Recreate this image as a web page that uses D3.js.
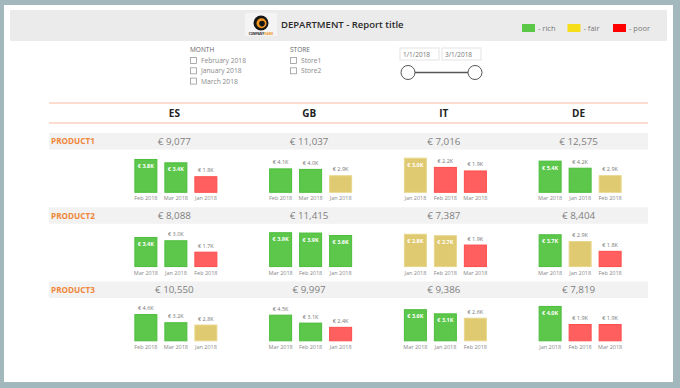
<!DOCTYPE html>
<html>
<head>
<meta charset="utf-8">
<script src="https://cdn.jsdelivr.net/npm/d3@7"></script>
<style>
  body { margin: 0; background: #a3b8bc; }
  svg text { font-family: "Open Sans", "Noto Sans", sans-serif; }
</style>
</head>
<body>
<div id="report"></div>
<script>
var countries = ["ES", "GB", "IT", "DE"];
var products = ["PRODUCT1", "PRODUCT2", "PRODUCT3"];
var months = ["Jan 2018", "Feb 2018", "Mar 2018"];

// sales per country, in the order Jan, Feb, Mar
var salesProduct1 = [[1837, 3812, 3428], [2924, 4102, 4011], [2968, 2176, 1872], [4215, 2932, 5428]];
var salesProduct2 = [[3005, 1701, 3382], [3605, 3886, 3924], [2812, 2689, 1886], [2916, 1797, 3691]];
var salesProduct3 = [[2788, 4578, 3184], [2394, 3121, 4482], [3138, 2636, 3612], [3986, 1918, 1915]];

var legendLabels = ["rich", "fair", "poor"];
var monthFilter = ["February 2018", "January 2018", "March 2018"];
var storeFilter = ["Store1", "Store2"];
var dateRange = ["1/1/2018", "3/1/2018"];

var sales = [salesProduct1, salesProduct2, salesProduct3];

var W = 680, H = 388;
var svg = d3.select("#report").append("svg")
    .attr("width", W)
    .attr("height", H);

// frame
svg.append("rect").attr("width", W).attr("height", H).attr("fill", "#a3b8bc");
svg.append("rect").attr("x", 4).attr("y", 5).attr("width", 669).attr("height", 377).attr("fill", "#fff");
svg.append("rect").attr("x", 10).attr("y", 10).attr("width", 657).attr("height", 31).attr("fill", "#ebebeb");

// logo
var logo = svg.append("g").attr("transform", "translate(261,23)");
logo.append("rect").attr("x", -16).attr("y", -10).attr("width", 32).attr("height", 23).attr("fill", "#f4f4f4");
logo.append("circle").attr("r", 7.5).attr("fill", "#151515");
logo.append("circle").attr("cx", 0.5).attr("cy", 0.3).attr("r", 5).attr("fill", "#f0961e");
logo.append("circle").attr("cx", 1).attr("cy", 0.6).attr("r", 2.8).attr("fill", "#151515");
var lt = logo.append("text").attr("x", 0).attr("y", 11.5).attr("text-anchor", "middle")
    .style("font-size", "3px").style("font-weight", 700);
lt.append("tspan").attr("fill", "#222").text("COMPANY");
lt.append("tspan").attr("fill", "#f0961e").text("NAME");

svg.append("text")
    .attr("x", 281).attr("y", 28)
    .style("font-size", "9.5px").style("font-weight", 600).attr("fill", "#2a2a2a")
    .text("DEPARTMENT - Report title");

// colour by level
var color = d3.scaleThreshold().domain([2500, 3000]).range(["#ff5f5f", "#dfca71", "#5cc74b"]);
var stroke = d3.scaleThreshold().domain([2500, 3000]).range(["#ff4d4d", "#e8d68c", "#4cbd3b"]);
var legendColor = d3.scaleOrdinal().domain(legendLabels).range(["#5ac846", "#f6de1a", "#fe0000"]);
var legendX = d3.scalePoint().domain(legendLabels).range([522, 613]);

var lg = svg.append("g").selectAll("g").data(legendLabels).enter().append("g")
    .attr("transform", function(d) { return "translate(" + legendX(d) + ",24)"; });
lg.append("rect").attr("width", 13).attr("height", 8)
    .attr("fill", function(d) { return legendColor(d); });
lg.append("text").attr("x", 16).attr("y", 6.5)
    .style("font-size", "7.5px").attr("fill", "#777")
    .text(function(d) { return "- " + d; });

// slicers
function slicer(x, title, items) {
  var g = svg.append("g").attr("transform", "translate(" + x + ",0)");
  g.append("text").attr("x", 0).attr("y", 52).style("font-size", "6.5px").attr("fill", "#666").text(title);
  var it = g.selectAll(".item").data(items).enter().append("g")
      .attr("transform", function(d, i) { return "translate(0," + (57 + i * 10.3) + ")"; });
  it.append("rect").attr("x", 0.5).attr("y", 0.5).attr("width", 6).attr("height", 6)
      .attr("fill", "#fff").attr("stroke", "#9a9a9a").attr("stroke-width", 0.8);
  it.append("text").attr("x", 11).attr("y", 6).style("font-size", "6.7px").attr("fill", "#888")
      .text(function(d) { return d; });
}
slicer(190, "MONTH", monthFilter);
slicer(290, "STORE", storeFilter);

var dateBox = svg.append("g").selectAll("g").data(dateRange).enter().append("g")
    .attr("transform", function(d, i) { return "translate(" + (400 + i * 42) + ",48)"; });
dateBox.append("rect").attr("width", 39).attr("height", 12)
    .attr("fill", "#fff").attr("stroke", "#e3e3e3");
dateBox.append("text").attr("x", 3).attr("y", 8.5).style("font-size", "6.5px").attr("fill", "#777")
    .text(function(d) { return d; });
svg.append("line").attr("x1", 408).attr("x2", 475).attr("y1", 72.5).attr("y2", 72.5)
    .attr("stroke", "#555").attr("stroke-width", 1.5);
svg.selectAll(".knob").data(dateRange).enter().append("circle")
    .attr("cx", function(d, i) { return i ? 475 : 408; }).attr("cy", 72.5).attr("r", 7)
    .attr("fill", "#fff").attr("stroke", "#555").attr("stroke-width", 1);

// matrix
var colX = d3.scaleBand().domain(countries).range([107, 646]);
var rowY = d3.scaleBand().domain(products).range([133, 133 + 3 * 74.25]);
var plotH = 35;

svg.append("line").attr("x1", 49).attr("x2", 648).attr("y1", 103).attr("y2", 103)
    .attr("stroke", "#fad2c1").attr("stroke-width", 1.4);
svg.append("line").attr("x1", 49).attr("x2", 648).attr("y1", 123).attr("y2", 123)
    .attr("stroke", "#fad2c1").attr("stroke-width", 1.4);
svg.selectAll(".head").data(countries).enter().append("text")
    .attr("x", function(d) { return colX(d) + colX.bandwidth() / 2; })
    .attr("y", 117)
    .attr("text-anchor", "middle")
    .style("font-size", "10px").style("font-weight", 700).attr("fill", "#222")
    .text(function(d) { return d; });

var fmtTotal = d3.format(",");
function fmtK(v) { return "€ " + (v / 1000).toFixed(1) + "K"; }
function niceMax(m) { return m <= 4 ? Math.ceil(m) : 2 * Math.ceil(m / 2); }

products.forEach(function(p, pi) {
  var top = rowY(p);
  svg.append("rect").attr("x", 49).attr("y", top).attr("width", 599).attr("height", 16.5).attr("fill", "#f2f2f2");
  svg.append("text").attr("x", 51).attr("y", top + 11.3)
      .style("font-size", "8.2px").style("font-weight", 700).attr("fill", "#f0873a").text(p);

  var base = top + 59.3;
  countries.forEach(function(c, ci) {
    var vals = sales[pi][ci];
    var cx = colX(c) + colX.bandwidth() / 2;
    svg.append("text").attr("x", cx).attr("y", top + 11.8)
        .attr("text-anchor", "middle").style("font-size", "9.8px").attr("fill", "#808080")
        .text("€ " + fmtTotal(d3.sum(vals)));

    var data = months.map(function(m, i) { return {month: m, value: vals[i]}; })
        .sort(function(a, b) { return b.value - a.value; });
    var x = d3.scaleBand().domain(data.map(function(d) { return d.month; }))
        .range([cx - 40, cx + 43]).paddingInner(0.233);
    var y = d3.scaleLinear().domain([0, niceMax(d3.max(vals) / 1000) * 1000]).range([base, base - plotH]);

    var g = svg.append("g");
    g.selectAll("rect").data(data).enter().append("rect")
        .attr("x", function(d) { return x(d.month) + 0.5; })
        .attr("y", function(d) { return y(d.value) + 0.5; })
        .attr("width", x.bandwidth() - 1)
        .attr("height", function(d) { return base - y(d.value) - 0.5; })
        .attr("fill", function(d) { return color(d.value); })
        .attr("stroke", function(d) { return stroke(d.value); });

    g.selectAll(".lab").data(data).enter().append("text")
        .attr("x", function(d) { return x(d.month) + x.bandwidth() / 2; })
        .attr("y", function(d) {
          return base - y(d.value) > 27 ? y(d.value) + 9 : y(d.value) - 4;
        })
        .attr("text-anchor", "middle")
        .style("font-size", "5.5px")
        .style("font-weight", function(d) { return base - y(d.value) > 27 ? 700 : 400; })
        .attr("fill", function(d) { return base - y(d.value) > 27 ? "#fff" : "#777"; })
        .text(function(d) { return fmtK(d.value); });

    g.selectAll(".tick").data(data).enter().append("text")
        .attr("x", function(d) { return x(d.month) + x.bandwidth() / 2; })
        .attr("y", base + 8)
        .attr("text-anchor", "middle")
        .style("font-size", "5.5px").attr("fill", "#888")
        .text(function(d) { return d.month; });
  });
});
</script>
</body>
</html>
